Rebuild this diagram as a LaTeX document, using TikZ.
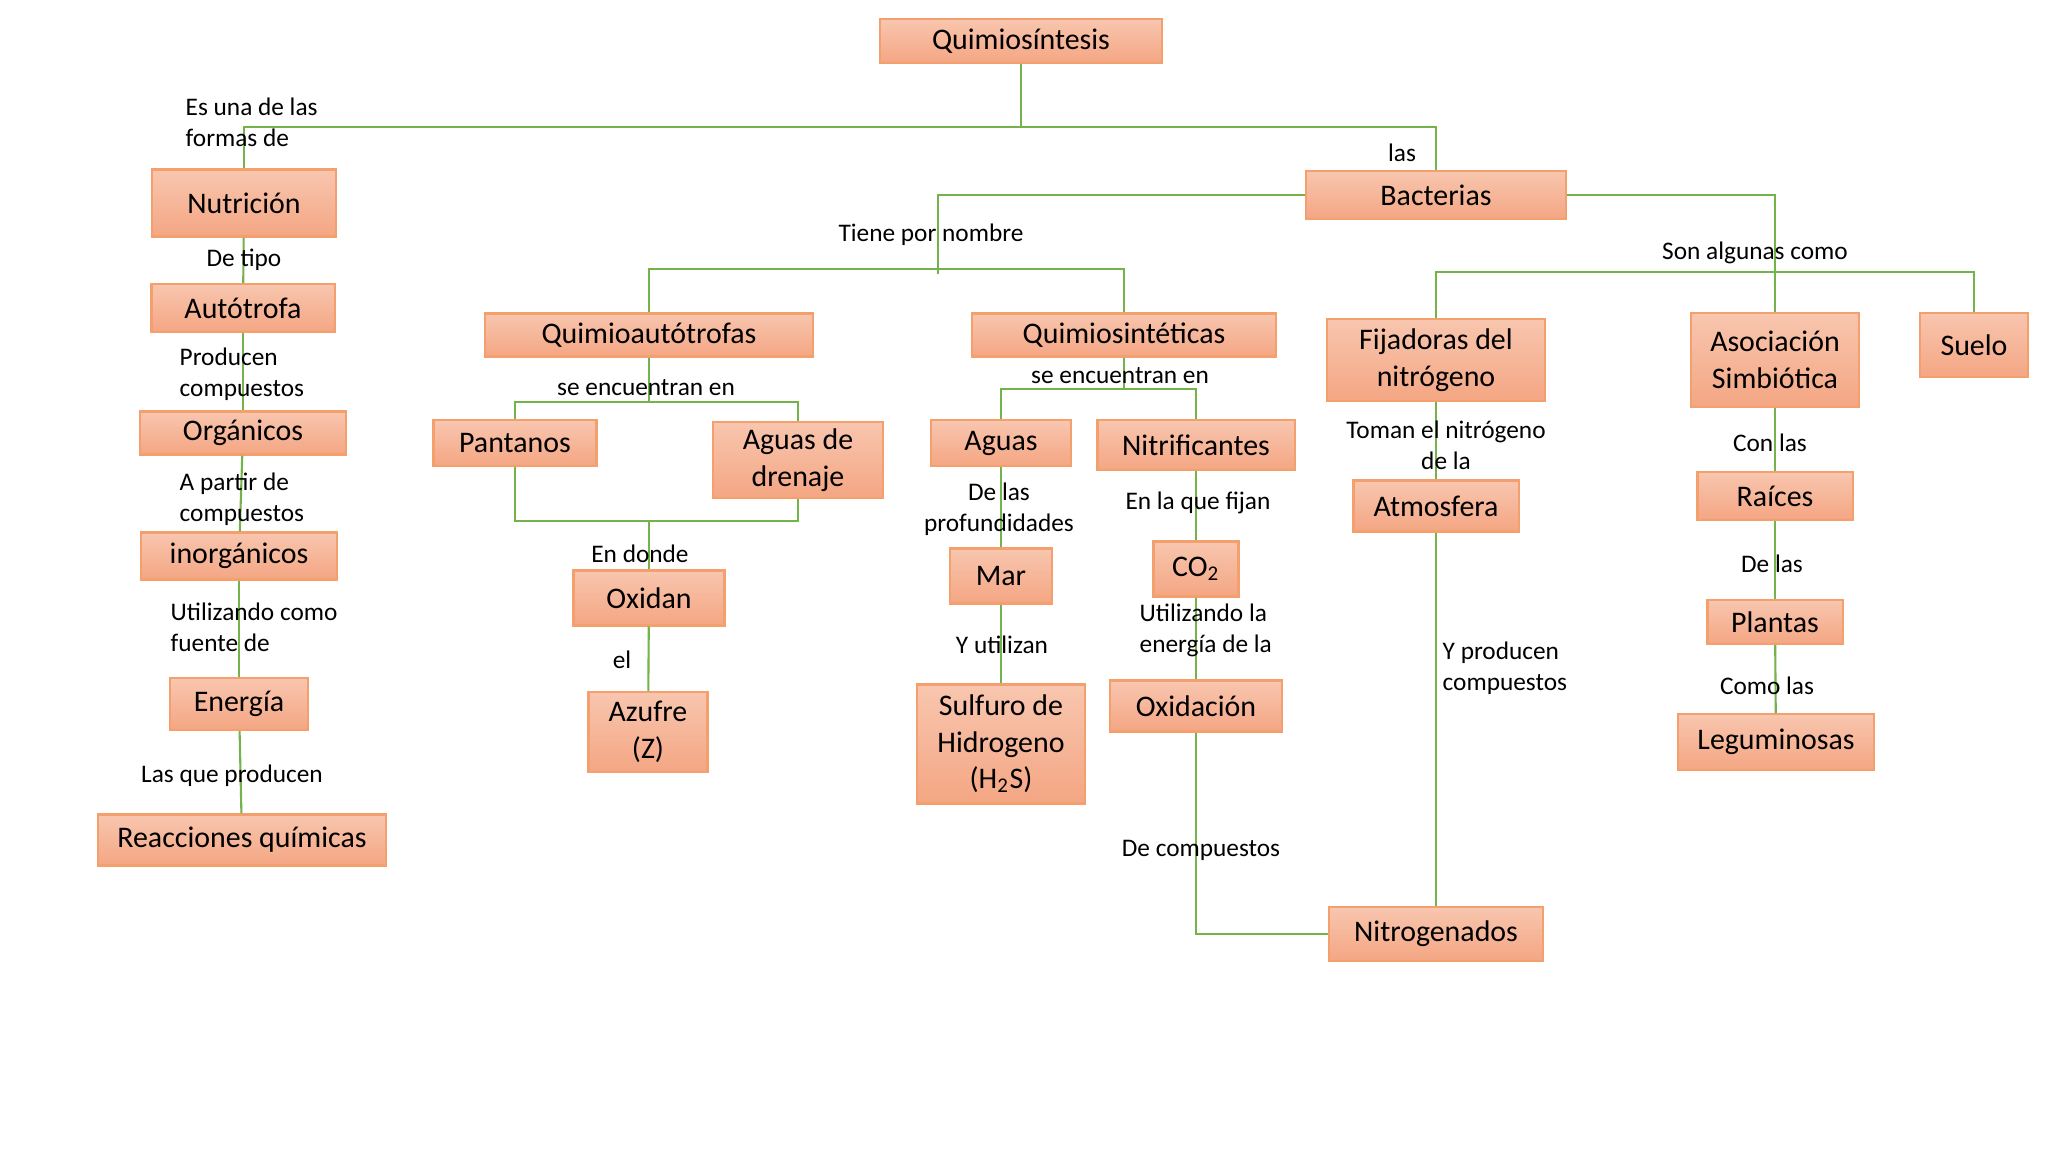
\documentclass[tikz,border=0pt]{standalone}
\usepackage{fontspec}
\setmainfont{Carlito}
\usepackage{xcolor}
\usepackage{tikz}
\usetikzlibrary{positioning,calc}

\definecolor{salmonA}{HTML}{F8C6AF}
\definecolor{salmonB}{HTML}{F4A683}
\definecolor{bordeN}{HTML}{F4A06E}
\definecolor{verdeL}{HTML}{74B24A}

\begin{document}
\begin{tikzpicture}[
  x=0.01cm, y=-0.01cm,
  concepto/.style={draw=bordeN, line width=0.6pt, top color=salmonA, bottom color=salmonB,
                   align=center, inner sep=0pt, font=\fontsize{8.5}{10.4}\selectfont},
  etiqueta/.style={inner sep=0pt, font=\fontsize{7.2}{8.8}\selectfont},
  enlace/.style={draw=verdeL, line width=0.6pt}
]
  \useasboundingbox[fill=white] (0,0) rectangle (2048,1152);

  \node[concepto, minimum width=2.81cm, minimum height=0.44cm] (quimio) at (1021,41) {Quimiosíntesis};

  \node[concepto, minimum width=1.84cm, minimum height=0.67cm] (nutri) at (244,203) {Nutrición};
  \node[concepto, minimum width=1.83cm, minimum height=0.48cm] (auto) at (243,308) {Autótrofa};
  \node[concepto, minimum width=2.06cm, minimum height=0.43cm] (organ) at (243,433) {Orgánicos};
  \node[concepto, minimum width=1.96cm, minimum height=0.47cm] (inorg) at (239,556) {inorgánicos};
  \node[concepto, minimum width=1.38cm, minimum height=0.52cm] (energ) at (239,704) {Energía};
  \node[concepto, minimum width=2.87cm, minimum height=0.51cm] (reac) at (242,840) {Reacciones químicas};

  \node[concepto, minimum width=2.60cm, minimum height=0.48cm] (bact) at (1436,195) {Bacterias};

  \node[concepto, minimum width=3.28cm, minimum height=0.43cm] (qaut) at (649,335) {Quimioautótrofas};
  \node[concepto, minimum width=1.63cm, minimum height=0.46cm] (pant) at (515,443) {Pantanos};
  \node[concepto, minimum width=1.70cm, minimum height=0.76cm] (agdr) at (798,460) {Aguas de\\drenaje};
  \node[concepto, minimum width=1.51cm, minimum height=0.55cm] (oxidan) at (649,598) {Oxidan};
  \node[concepto, minimum width=1.19cm, minimum height=0.80cm] (azufre) at (648,732) {Azufre\\(Z)};

  \node[concepto, minimum width=3.04cm, minimum height=0.43cm] (qsin) at (1124,335) {Quimiosintéticas};
  \node[concepto, minimum width=1.40cm, minimum height=0.46cm] (aguas) at (1001,443) {Aguas};
  \node[concepto, minimum width=1.97cm, minimum height=0.50cm] (nitri) at (1196,445) {Nitrificantes};
  \node[concepto, minimum width=1.02cm, minimum height=0.55cm] (mar) at (1001,576) {Mar};
  \node[concepto, minimum width=0.85cm, minimum height=0.55cm] (co2) at (1196,569) {CO\textsubscript{2}};
  \node[concepto, minimum width=1.68cm, minimum height=1.19cm] (sulf) at (1001,744) {Sulfuro de\\Hidrogeno\\(H\textsubscript{2}S)};
  \node[concepto, minimum width=1.72cm, minimum height=0.51cm] (oxid) at (1196,706) {Oxidación};

  \node[concepto, minimum width=2.18cm, minimum height=0.82cm] (fija) at (1436,360) {Fijadoras del\\nitrógeno};
  \node[concepto, minimum width=1.65cm, minimum height=0.51cm] (atmo) at (1436,506) {Atmosfera};
  \node[concepto, minimum width=2.14cm, minimum height=0.54cm] (nitro) at (1436,934) {Nitrogenados};

  \node[concepto, minimum width=1.68cm, minimum height=0.94cm] (asoc) at (1775,360) {Asociación\\Simbiótica};
  \node[concepto, minimum width=1.08cm, minimum height=0.64cm] (suelo) at (1974,345) {Suelo};
  \node[concepto, minimum width=1.55cm, minimum height=0.48cm] (raices) at (1775,496) {Raíces};
  \node[concepto, minimum width=1.35cm, minimum height=0.44cm] (plant) at (1775,622) {Plantas};
  \node[concepto, minimum width=1.96cm, minimum height=0.56cm] (legu) at (1776,742) {Leguminosas};

  \coordinate (jtop) at (1021,127);
  \coordinate (jnombre) at (938,274);
  \coordinate (jtipo) at (938,269);
  \coordinate (jalgunas) at (1775,272);
  \coordinate (jencL) at (649,402);
  \coordinate (jdonde) at (649,521);
  \coordinate (jencR) at (1124,389);

  \draw[enlace] (quimio.south) -- (jtop);
  \draw[enlace] (nutri.north) |- (jtop) -| (bact.north);
  \draw[enlace] (nutri) -- (auto);
  \draw[enlace] (auto) -- (organ);
  \draw[enlace] (organ) -- (inorg);
  \draw[enlace] (inorg) -- (energ);
  \draw[enlace] (energ) -- (reac);

  \draw[enlace] (bact.west) -| (jnombre);
  \draw[enlace] (qaut.north) |- (jtipo) -| (qsin.north);
  \draw[enlace] (bact.east) -| (asoc.north);
  \draw[enlace] (fija.north) |- (jalgunas) -| (suelo.north);

  \draw[enlace] (qaut.south) -- (jencL);
  \draw[enlace] (pant.north) |- (jencL) -| (agdr.north);
  \draw[enlace] (pant.south) |- (jdonde) -| (agdr.south);
  \draw[enlace] (jdonde) -- (oxidan.north);
  \draw[enlace] (oxidan) -- (azufre);

  \draw[enlace] (qsin.south) -- (jencR);
  \draw[enlace] (aguas.north) |- (jencR) -| (nitri.north);
  \draw[enlace] (aguas) -- (mar);
  \draw[enlace] (mar) -- (sulf);
  \draw[enlace] (nitri) -- (co2);
  \draw[enlace] (co2) -- (oxid);
  \draw[enlace] (oxid.south) |- (nitro.west);

  \draw[enlace] (fija) -- (atmo);
  \draw[enlace] (atmo) -- (nitro);
  \draw[enlace] (asoc) -- (raices);
  \draw[enlace] (raices) -- (plant);
  \draw[enlace] (plant) -- (legu);

  \node[etiqueta, anchor=west, align=left] (lforma) at (185,122) {Es una de las\\formas de};
  \node[etiqueta] (llas) at (1402,153) {las};
  \node[etiqueta] (ltipo) at (244,260) {De tipo};
  \node[etiqueta, anchor=west, align=left] (lproducen) at (179,374) {Producen\\compuestos};
  \node[etiqueta, anchor=west, align=left] (lpartir) at (179,499) {A partir de\\compuestos};
  \node[etiqueta, anchor=west, align=left] (lfuente) at (170,627) {Utilizando como\\fuente de};
  \node[etiqueta] (lqueprod) at (232,776) {Las que producen};
  \node[etiqueta] (lnombre) at (931,235) {Tiene por nombre};
  \node[etiqueta] (lencL) at (646,388) {se encuentran en};
  \node[etiqueta] (lencR) at (1120,376) {se encuentran en};
  \node[etiqueta] (ldonde) at (640,554) {En donde};
  \node[etiqueta] (lel) at (622,660) {el};
  \node[etiqueta, align=center] (lprof) at (999,509) {De las\\profundidades};
  \node[etiqueta] (lfijan) at (1198,503) {En la que fijan};
  \node[etiqueta] (lutilizan) at (1002,645) {Y utilizan};
  \node[etiqueta, anchor=west, align=left] (lenergia) at (1139,630) {Utilizando la\\energía de la};
  \node[etiqueta] (lcomp) at (1201,850) {De compuestos};
  \node[etiqueta, align=center] (ltoman) at (1446,445) {Toman el nitrógeno\\de la};
  \node[etiqueta, anchor=west, align=left] (lyprod) at (1442,668) {Y producen\\compuestos};
  \node[etiqueta] (lalgunas) at (1755,253) {Son algunas como};
  \node[etiqueta] (lconlas) at (1770,443) {Con las};
  \node[etiqueta] (ldelas) at (1772,564) {De las};
  \node[etiqueta] (lcomolas) at (1767,686) {Como las};
\end{tikzpicture}
\end{document}
